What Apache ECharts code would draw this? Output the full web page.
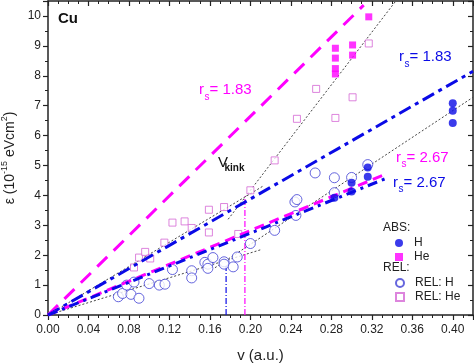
<!DOCTYPE html>
<html><head><meta charset="utf-8">
<script src="https://cdn.jsdelivr.net/npm/echarts@6/dist/echarts.min.js"></script>
<style>html,body{margin:0;padding:0;background:#fff}#c{width:474px;height:363px}</style>
</head><body><div id="c"></div>
<script>
// ---- data (v in a.u., epsilon in 1e-15 eVcm^2) ----
const absH = [[0.283,3.92],[0.300,4.42],[0.300,4.13],[0.316,4.93],[0.316,4.62],[0.400,7.08],[0.400,6.83],[0.400,6.42]];
const absHe = [[0.284,8.92],[0.284,8.59],[0.284,8.24],[0.284,8.06],[0.301,9.03],[0.301,8.69],[0.317,9.97]];
const relH = [[0.0695,0.61],[0.0737,0.72],[0.082,0.69],[0.0899,0.56],[0.0777,1.0],[0.085,1.1],[0.100,1.05],[0.110,1.0],[0.1156,1.03],
  [0.123,1.52],[0.142,1.48],[0.142,1.24],[0.155,1.76],[0.158,1.70],[0.158,1.56],[0.163,1.92],[0.174,1.78],[0.174,1.70],
  [0.183,1.61],[0.187,1.94],[0.200,2.39],[0.224,2.83],[0.244,3.78],[0.246,3.86],[0.245,3.33],[0.264,4.75],[0.283,4.59],
  [0.283,4.09],[0.300,4.60],[0.316,5.03]];
const relHe = [[0.085,1.59],[0.090,1.92],[0.096,2.11],[0.101,1.89],[0.115,2.42],[0.123,3.09],[0.135,3.13],[0.142,2.91],
  [0.159,3.52],[0.159,2.76],[0.174,3.61],[0.188,2.71],[0.200,4.17],[0.224,5.17],[0.246,6.56],[0.265,7.56],[0.284,6.59],
  [0.301,7.28],[0.317,9.08]];
const rs183He = [[0,0],[0.312,10.36]];
const rs183H = [[0,0],[0.42,8.15]];
const rs267He = [[0,0],[0.335,4.73]];
const rs267H = [[0,0],[0.335,4.58]];
const fitRelHLow = [[0,0],[0.21,2.18]];
const fitRelHHigh = [[0.165,1.58],[0.42,7.28]];
const fitRelHeLow = [[0,0],[0.212,4.3]];
const fitRelHeHigh = [[0.178,3.2],[0.3437,10.5]];
const kinkH = [[0.176,0],[0.176,1.82]];
const kinkHe = [[0.1946,0],[0.1946,3.96]];
const xTickStep = 0.04, yTickStep = 1;

const FONT = '"Liberation Sans", Arial, Helvetica, sans-serif';
const MAG = '#ff00ff', BLUE = '#0a0ae6', REL_H_C = '#4040d4', REL_HE_C = '#d466d4', AX = '#222';

function lineSeries(data, color, width, type, z) {
  return {type:'line', data, symbol:'none', silent:true, z:z||3, animation:false,
    lineStyle:{color, width, type}, legendHoverLink:false};
}
const axisCommon = {
  axisLine:{show:true, onZero:false, lineStyle:{color:AX, width:1.5}},
  splitLine:{show:false},
};
function xAx(pos) {
  return Object.assign({}, axisCommon, {type:'value', position:pos, min:0, max:0.42, interval:xTickStep,
    axisTick:{show:true, inside:pos==='top', length:5, lineStyle:{color:AX, width:1.2}},
    minorTick:{show:true, splitNumber:4, length:3, lineStyle:{color:AX, width:1}},
    axisLabel:{show:pos==='bottom', margin:9, color:AX, fontSize:12, fontFamily:FONT,
      formatter:v=>Math.abs(Math.round(v*100)%4)===0 ? v.toFixed(2) : ''},
    name: pos==='bottom' ? 'v (a.u.)' : '', nameLocation:'middle', nameGap:33,
    nameTextStyle:{fontSize:15, color:AX, fontFamily:FONT}});
}
function yAx(pos) {
  return Object.assign({}, axisCommon, {type:'value', position:pos, min:0, max:10.5, interval:yTickStep,
    axisTick:{show:true, inside:pos==='right', length:5, lineStyle:{color:AX, width:1.2}},
    minorTick:{show:true, splitNumber:2, length:3, lineStyle:{color:AX, width:1}},
    axisLabel:{show:pos==='left', margin:7, color:AX, fontSize:12, fontFamily:FONT,
      formatter:v=>Math.abs(v-Math.round(v))<1e-6 ? String(Math.round(v)) : ''},
    name: pos==='left' ? '{m|ε (10}{sup|-15}{m| eVcm}{sup|2}{m|)}' : '', nameLocation:'middle', nameGap:24, nameRotate:90,
    nameTextStyle:{color:AX, fontFamily:FONT, fontSize:14,
      rich:{m:{fontSize:14, lineHeight:20, verticalAlign:'middle', fontFamily:FONT, color:AX},
            sup:{fontSize:9, lineHeight:9, verticalAlign:'top', fontFamily:FONT, color:AX}}}});
}

function txt(x, y, text, color, size, bold) {
  return {type:'text', x, y, silent:true, z:10, style:{text, fill:color, font:(bold?'bold ':'')+size+'px '+FONT,
    verticalAlign:'middle', align:'left'}};
}
function rsLabel(x, yc, val, color) {
  return [txt(x, yc, 'r', color, 15), txt(x+5.5, yc+7, 's', color, 10), txt(x+10.5, yc, '= '+val, color, 15)];
}

const graphics = [].concat(
  [txt(58, 19, 'Cu', '#111', 15, true)],
  rsLabel(199, 90, '1.83', MAG),
  rsLabel(399, 57, '1.83', BLUE),
  rsLabel(396, 157.5, '2.67', MAG),
  rsLabel(393, 182.5, '2.67', BLUE),
  [txt(218, 162.5, 'V', '#111', 15), txt(224.5, 168, 'kink', '#111', 10, true),
   txt(383, 228, 'ABS:', AX, 12), txt(383, 268, 'REL:', AX, 12)]
);

const legendText = {fontSize:12, color:AX, fontFamily:FONT, lineHeight:14, padding:[0,0,0,6]};
const chart = echarts.init(document.getElementById('c'), null, {renderer:'canvas'});
chart.setOption({
  animation:false,
  backgroundColor:'#fff',
  grid:{left:48, right:1, top:1, bottom:48, containLabel:false, outerBoundsMode:'none'},
  xAxis:[xAx('bottom'), xAx('top')],
  yAxis:[yAx('left'), yAx('right')],
  legend:[
    {data:['H','He'], orient:'vertical', left:390, top:231, itemWidth:8, itemHeight:8, itemGap:0,
     selectedMode:false, textStyle:legendText},
    {data:['REL: H','REL: He'], orient:'vertical', left:390, top:271, itemWidth:8, itemHeight:8, itemGap:0,
     selectedMode:false, textStyle:legendText}
  ],
  graphic: graphics,
  series:[
    lineSeries(fitRelHLow, '#444', 1, [2,2], 2),
    lineSeries(fitRelHHigh, '#444', 1, [2,2], 2),
    lineSeries(fitRelHeLow, '#444', 1, [2,2], 2),
    lineSeries(fitRelHeHigh, '#444', 1, [2,2], 2),
    lineSeries(kinkH, BLUE, 1.2, [6,2,1,2], 2),
    lineSeries(kinkHe, MAG, 1.2, [6,2,1,2], 2),
    {name:'REL: H', type:'scatter', data:relH, symbol:'circle', symbolSize:10, z:4,
     itemStyle:{color:'#fff', borderColor:REL_H_C, borderWidth:1}},
    {name:'REL: He', type:'scatter', data:relHe, symbol:'rect', symbolSize:7, z:4,
     itemStyle:{color:'#fff', borderColor:REL_HE_C, borderWidth:1}},
    lineSeries(rs183He, MAG, 3, [14,9], 5),
    lineSeries(rs183H, BLUE, 3, [13,5,4,5], 5),
    lineSeries(rs267He, MAG, 3, [10,6], 5),
    lineSeries(rs267H, BLUE, 3, [10,5,3,5], 5),
    {name:'H', type:'scatter', data:absH, symbol:'circle', symbolSize:8, z:6, itemStyle:{color:BLUE}},
    {name:'He', type:'scatter', data:absHe, symbol:'rect', symbolSize:7, z:6, itemStyle:{color:MAG}}
  ]
});
</script></body></html>
